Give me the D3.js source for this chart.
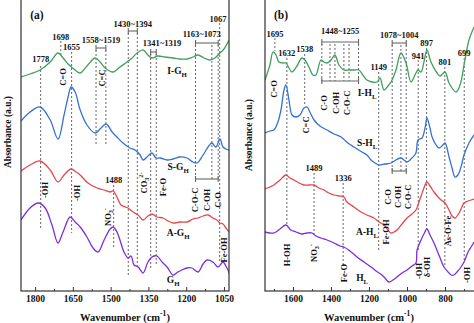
<!DOCTYPE html>
<html><head><meta charset="utf-8">
<script src="https://cdn.jsdelivr.net/npm/d3@7"></script>
<style>
body{margin:0;background:#fff}
svg{display:block}
text{font-family:"Liberation Serif","Times New Roman",serif;font-weight:bold;fill:#111}
</style></head><body>
<svg id="c" width="474" height="323"></svg>
<script>
// ---------- DATA (wavenumber cm-1, absorbance a.u. with offsets) ----------
const ticksA = [1800,1650,1500,1350,1200,1050];
const minorA = [1725,1575,1425,1275,1125];
const ticksB = [1600,1400,1200,1000,800];
const minorB = [1700,1500,1300,1100,900,700];

const I_GH = [[1856,2.14],[1820,2.17],[1780,2.21],[1740,2.29],[1709,2.38],[1689,2.33],[1669,2.27],[1641,2.21],[1621,2.18],[1594,2.25],[1562,2.33],[1542,2.29],[1522,2.23],[1490,2.19],[1463,2.24],[1435,2.29],[1415,2.33],[1395,2.38],[1371,2.41],[1352,2.36],[1336,2.33],[1312,2.35],[1284,2.34],[1252,2.33],[1225,2.32],[1197,2.32],[1173,2.34],[1153,2.36],[1129,2.33],[1106,2.31],[1086,2.33],[1066,2.38],[1050,2.42],[1030,2.51]];
const S_GH = [[1856,1.70],[1820,1.79],[1780,1.84],[1740,1.71],[1709,1.52],[1685,1.76],[1669,1.94],[1657,2.04],[1641,1.99],[1621,1.81],[1594,1.66],[1562,1.58],[1538,1.63],[1518,1.67],[1494,1.59],[1475,1.54],[1451,1.48],[1423,1.43],[1403,1.41],[1383,1.36],[1371,1.31],[1352,1.35],[1336,1.38],[1320,1.33],[1304,1.33],[1276,1.31],[1252,1.32],[1225,1.34],[1197,1.33],[1173,1.29],[1157,1.28],[1133,1.36],[1113,1.44],[1098,1.48],[1082,1.44],[1066,1.52],[1054,1.44],[1042,1.42],[1030,1.41]];
const A_GH = [[1856,1.20],[1820,1.26],[1780,1.30],[1740,1.21],[1709,1.09],[1685,1.16],[1657,1.22],[1637,1.19],[1621,1.16],[1590,1.08],[1554,1.03],[1526,1.01],[1502,0.99],[1490,1.00],[1475,0.94],[1459,0.86],[1431,0.83],[1411,0.79],[1391,0.76],[1371,0.71],[1352,0.75],[1336,0.77],[1316,0.74],[1292,0.73],[1272,0.70],[1252,0.68],[1225,0.69],[1197,0.69],[1173,0.72],[1153,0.73],[1133,0.75],[1113,0.76],[1094,0.73],[1078,0.71],[1066,0.68],[1054,0.67],[1042,0.63],[1030,0.59]];
const GH = [[1856,0.71],[1820,0.83],[1788,0.88],[1760,0.83],[1733,0.66],[1709,0.48],[1689,0.59],[1661,0.74],[1641,0.69],[1621,0.64],[1594,0.54],[1570,0.43],[1550,0.39],[1526,0.51],[1502,0.62],[1490,0.64],[1475,0.59],[1463,0.51],[1447,0.39],[1431,0.33],[1419,0.35],[1407,0.26],[1391,0.24],[1371,0.18],[1352,0.29],[1336,0.34],[1316,0.35],[1296,0.29],[1276,0.24],[1252,0.16],[1233,0.19],[1217,0.21],[1197,0.23],[1177,0.23],[1153,0.19],[1133,0.27],[1117,0.31],[1094,0.29],[1074,0.24],[1062,0.27],[1054,0.29],[1038,0.23],[1026,0.16]];

const I_HL = [[1747,2.11],[1721,2.26],[1705,2.39],[1689,2.36],[1674,2.29],[1653,2.28],[1637,2.28],[1621,2.23],[1605,2.19],[1579,2.25],[1553,2.33],[1537,2.31],[1516,2.24],[1495,2.16],[1479,2.16],[1453,2.31],[1437,2.29],[1421,2.28],[1400,2.31],[1379,2.36],[1358,2.26],[1332,2.21],[1305,2.21],[1279,2.21],[1253,2.21],[1232,2.16],[1211,2.11],[1184,2.09],[1158,2.09],[1142,2.13],[1121,2.01],[1100,2.05],[1084,2.09],[1058,2.21],[1032,2.38],[1005,2.28],[979,2.09],[953,2.18],[942,2.21],[926,2.19],[911,2.29],[895,2.41],[874,2.29],[842,2.18],[826,2.15],[800,2.19],[779,2.08],[742,1.99],[721,2.06],[700,2.26],[674,2.51],[647,2.64]];
const S_HL = [[1747,1.58],[1721,1.60],[1700,1.61],[1679,1.69],[1663,1.81],[1647,2.01],[1637,2.06],[1621,1.91],[1605,1.76],[1584,1.74],[1563,1.76],[1542,1.83],[1526,1.84],[1511,1.79],[1489,1.71],[1458,1.65],[1421,1.61],[1384,1.57],[1347,1.54],[1311,1.48],[1279,1.44],[1237,1.39],[1211,1.36],[1189,1.31],[1168,1.28],[1147,1.26],[1116,1.27],[1084,1.28],[1058,1.31],[1032,1.33],[1016,1.31],[1000,1.29],[974,1.33],[953,1.38],[942,1.51],[921,1.53],[905,1.63],[895,1.73],[879,1.63],[868,1.54],[847,1.46],[832,1.43],[816,1.45],[800,1.48],[779,1.34],[763,1.23],[747,1.14],[732,1.16],[716,1.24],[700,1.36],[674,1.48],[647,1.56]];
const A_HL = [[1747,1.02],[1721,1.04],[1700,1.06],[1668,1.11],[1637,1.16],[1616,1.13],[1595,1.11],[1568,1.08],[1542,1.06],[1516,1.06],[1489,1.06],[1463,1.03],[1437,1.01],[1411,0.98],[1384,0.96],[1358,0.95],[1332,0.94],[1316,0.89],[1279,0.84],[1242,0.79],[1211,0.76],[1174,0.73],[1147,0.69],[1121,0.66],[1100,0.61],[1084,0.58],[1068,0.59],[1053,0.61],[1026,0.67],[1000,0.73],[974,0.77],[953,0.81],[937,0.89],[926,0.95],[911,1.03],[895,1.09],[879,1.05],[858,0.99],[837,0.94],[821,0.91],[800,0.88],[779,0.81],[763,0.75],[747,0.73],[726,0.78],[711,0.84],[700,0.88],[679,0.90],[647,0.92]];
const HL = [[1747,0.59],[1721,0.58],[1700,0.58],[1668,0.62],[1637,0.66],[1611,0.61],[1584,0.59],[1553,0.57],[1526,0.58],[1500,0.58],[1479,0.55],[1453,0.53],[1421,0.51],[1384,0.48],[1353,0.45],[1332,0.44],[1300,0.40],[1263,0.34],[1226,0.29],[1189,0.24],[1163,0.20],[1147,0.18],[1132,0.16],[1116,0.13],[1095,0.09],[1074,0.11],[1053,0.14],[1026,0.18],[1000,0.21],[974,0.25],[953,0.28],[947,0.41],[926,0.51],[911,0.57],[895,0.62],[879,0.56],[858,0.48],[832,0.36],[805,0.24],[784,0.19],[768,0.16],[753,0.16],[737,0.19],[716,0.24],[700,0.29],[679,0.39],[663,0.44],[647,0.49]];

// annotations: [wavenumber, a.u. top, a.u. bottom]
const dropA = [[1778,2.25,0.61],[1698,2.50,2.36],[1655,2.39,0.58],[1558,2.41,1.46],[1519,2.41,1.46],[1430,2.58,0.16],[1394,2.58,0.23],[1341,2.37,0.21],[1319,2.37,0.26],[1163,2.46,1.12],[1098,2.46,1.12],[1073,2.46,1.12],[1067,2.68,0.29],[1488,1.06,0.44]];
const dropB = [[1695,2.53,2.40],[1632,2.33,0.66],[1538,2.37,1.86],[1448,2.47,2.10],[1405,2.47,2.10],[1379,2.47,2.10],[1332,2.47,2.10],[1305,2.47,2.10],[1255,2.47,2.10],[1149,2.19,0.41],[1078,2.46,1.20],[1032,2.46,1.20],[1004,2.46,1.20],[941,2.31,0.39],[897,2.43,0.62],[801,2.24,0.24],[699,2.33,0.29],[1489,1.18,0.54],[1336,1.08,0.26]];
const bracketA = [[1558,1519,2.43],[1430,1394,2.60],[1341,1319,2.39],[1163,1073,2.48],[1163,1073,1.12]];
const bracketB = [[1448,1255,2.49],[1448,1255,2.10],[1078,1004,2.48],[1078,1004,1.20]];
const peakA = [[1778,2.32,"1778"],[1698,2.54,"1698"],[1655,2.44,"1655"],[1538,2.51,"1558~1519"],[1412,2.67,"1430~1394"],[1296,2.48,"1341~1319"],[1138,2.57,"1163~1073"],[1074,2.72,"1067"],[1488,1.11,"1488"]];
const peakB = [[1695,2.57,"1695"],[1632,2.38,"1632"],[1538,2.42,"1538"],[1352,2.60,"1448~1255"],[1149,2.24,"1149"],[1041,2.56,"1078~1004"],[941,2.35,"941"],[897,2.48,"897"],[801,2.29,"801"],[699,2.38,"699"],[1489,1.23,"1489"],[1336,1.13,"1336"]];
const groupA = [[1689,2.14,["C=O"]],[1534,2.13,["C=C"]],[1760,1.01,["-OH"]],[1633,0.98,["-OH"]],[1510,0.74,["NO",["3","sub"],["-","sup"]]],[1367,1.08,["CO",["3","sub"],["2-","sup"]]],[1292,1.04,["Fe-O"]],[1165,0.91,["C-O-C"]],[1117,0.91,["C-OH"]],[1074,0.91,["C-O"]],[1048,0.41,["Fe-OH"]]];
const groupB = [[1700,2.02,["C=O"]],[1532,1.66,["C=C"]],[1437,1.88,["C-O"]],[1373,1.88,["C-OH"]],[1316,1.88,["C-O-C"]],[1100,0.94,["C-O"]],[1047,0.94,["C-OH"]],[994,0.94,["C-O-C"]],[1631,0.36,["H-OH"]],[1489,0.38,["NO",["3","sub"],["-","sup"]]],[1331,0.18,["Fe-O"]],[1110,0.59,["Fe-OH"]],[937,0.20,["-OH"]],[895,0.24,["δ-OH"]],[784,0.60,["As-O-Fe"]],[684,0.16,["-OH"]]];
const nameA = [[1236,2.20,["I-G",["H","sub"]]],[1232,1.24,["S-G",["H","sub"]]],[1232,0.58,["A-G",["H","sub"]]],[1252,0.11,["G",["H","sub"]]]];
const nameB = [[1210,1.98,["I-H",["L","sub"]]],[1210,1.48,["S-H",["L","sub"]]],[1210,0.59,["A-H",["L","sub"]]],[1236,0.13,["H",["L","sub"]]]];

const colors = {I:"#3f9f5f", S:"#3472d4", A:"#e4474b", R:"#7b2edc"};

// ---------- DRAW ----------
const svg = d3.select("#c");
const y = d3.scaleLinear().domain([0, 2.91]).range([291, 0]);

function rich(t, segs, fs){
  let cur = 0;
  segs.forEach(s => {
    const txt = typeof s === "string" ? s : s[0];
    const mode = typeof s === "string" ? "n" : s[1];
    const want = mode === "sub" ? fs*0.3 : mode === "sup" ? -fs*0.4 : 0;
    const ts = t.append("tspan").text(txt).attr("dy", want - cur);
    if (mode !== "n") ts.attr("font-size", fs*0.72);
    cur = want;
  });
}

function panel(cfg){
  const x = d3.scaleLinear().domain(cfg.domain).range(cfg.range);
  const g = svg.append("g");
  const id = "clip" + cfg.key;
  svg.append("clipPath").attr("id", id).append("rect")
    .attr("x", cfg.range[0]).attr("y", -2).attr("width", cfg.range[1]-cfg.range[0]).attr("height", 293);
  g.selectAll(".drop").data(cfg.drops).join("line")
    .attr("x1", d => x(d[0])).attr("x2", d => x(d[0]))
    .attr("y1", d => y(d[1])).attr("y2", d => y(d[2]))
    .attr("stroke", "#555").attr("stroke-width", 0.9).attr("stroke-dasharray", "2,2");
  const br = g.selectAll(".br").data(cfg.brackets).join("g");
  br.append("line").attr("x1", d => x(d[0])).attr("x2", d => x(d[1]))
    .attr("y1", d => y(d[2])).attr("y2", d => y(d[2])).attr("stroke", "#666").attr("stroke-width", 1.1);
  [0,1].forEach(i => br.append("line").attr("x1", d => x(d[i])).attr("x2", d => x(d[i]))
    .attr("y1", d => y(d[2]) - 3).attr("y2", d => y(d[2]) + 3).attr("stroke", "#666").attr("stroke-width", 1.1));
  const line = d3.line().x(d => x(d[0])).y(d => y(d[1])).curve(d3.curveCatmullRom.alpha(0.5));
  const cg = g.append("g").attr("clip-path", `url(#${id})`);
  cfg.series.forEach(s => cg.append("path").attr("d", line(s.data))
    .attr("fill", "none").attr("stroke", s.color).attr("stroke-width", 1.3));
  g.selectAll(".pk").data(cfg.peaks).join("text")
    .attr("x", d => x(d[0])).attr("y", d => y(d[1]))
    .attr("text-anchor", "middle").attr("dominant-baseline", "central")
    .attr("font-size", 8.5).text(d => d[2]);
  cfg.groups.forEach(d => {
    const t = g.append("text").attr("transform", `translate(${x(d[0])},${y(d[1])}) rotate(-90)`)
      .attr("text-anchor", "middle").attr("dominant-baseline", "central").attr("font-size", 8.5);
    rich(t, d[2], 8.5);
  });
  cfg.names.forEach(d => {
    const t = g.append("text").attr("x", x(d[0])).attr("y", y(d[1]))
      .attr("text-anchor", "middle").attr("dominant-baseline", "central").attr("font-size", 9.5);
    rich(t, d[2], 9.5);
  });
  g.append("rect").attr("x", cfg.range[0]).attr("y", -1).attr("width", cfg.range[1]-cfg.range[0]).attr("height", 292)
    .attr("fill", "none").attr("stroke", "#333").attr("stroke-width", 1.2);
  const ax = g.append("g").attr("transform", "translate(0,291)")
    .call(d3.axisBottom(x).tickValues(cfg.ticks).tickFormat(d3.format("d")).tickSizeInner(-4).tickSizeOuter(0).tickPadding(4));
  ax.select(".domain").remove();
  ax.selectAll("line").attr("stroke", "#333");
  ax.selectAll("text").attr("font-size", 9.5).attr("font-family", '"Liberation Serif","Times New Roman",serif').attr("font-weight", "bold").attr("fill", "#111");
  const mx = g.append("g").attr("transform", "translate(0,291)")
    .call(d3.axisBottom(x).tickValues(cfg.minor).tickFormat("").tickSizeInner(-2).tickSizeOuter(0));
  mx.select(".domain").remove();
  mx.selectAll("line").attr("stroke", "#333");
  const xt = g.append("text").attr("x", cfg.xTitle).attr("y", 317).attr("text-anchor", "middle")
    .attr("dominant-baseline", "central").attr("font-size", 10.5);
  rich(xt, ["Wavenumber (cm", ["-1", "sup"], ")"], 10.5);
  g.append("text").attr("transform", `translate(${cfg.yTitle[0]},${cfg.yTitle[1]}) rotate(-90)`).attr("text-anchor", "middle")
    .attr("dominant-baseline", "central").attr("font-size", 9.5).text("Absorbance (a.u.)");
  g.append("text").attr("x", cfg.tag[0]).attr("y", cfg.tag[1]).attr("text-anchor", "middle")
    .attr("dominant-baseline", "central").attr("font-size", 11.5).text(cfg.tag[2]);
}

panel({key:"a", domain:[1856,1030], range:[21,229], ticks:ticksA, minor:minorA,
  drops:dropA, brackets:bracketA, peaks:peakA, groups:groupA, names:nameA,
  series:[{data:I_GH,color:colors.I},{data:S_GH,color:colors.S},{data:A_GH,color:colors.A},{data:GH,color:colors.R}],
  xTitle:125, yTitle:[8,132], tag:[37,15,"(a)"]});
panel({key:"b", domain:[1747,616], range:[265,480], ticks:ticksB, minor:minorB,
  drops:dropB, brackets:bracketB, peaks:peakB, groups:groupB, names:nameB,
  series:[{data:I_HL,color:colors.I},{data:S_HL,color:colors.S},{data:A_HL,color:colors.A},{data:HL,color:colors.R}],
  xTitle:369, yTitle:[249,135], tag:[281,15,"(b)"]});
</script></body></html>
